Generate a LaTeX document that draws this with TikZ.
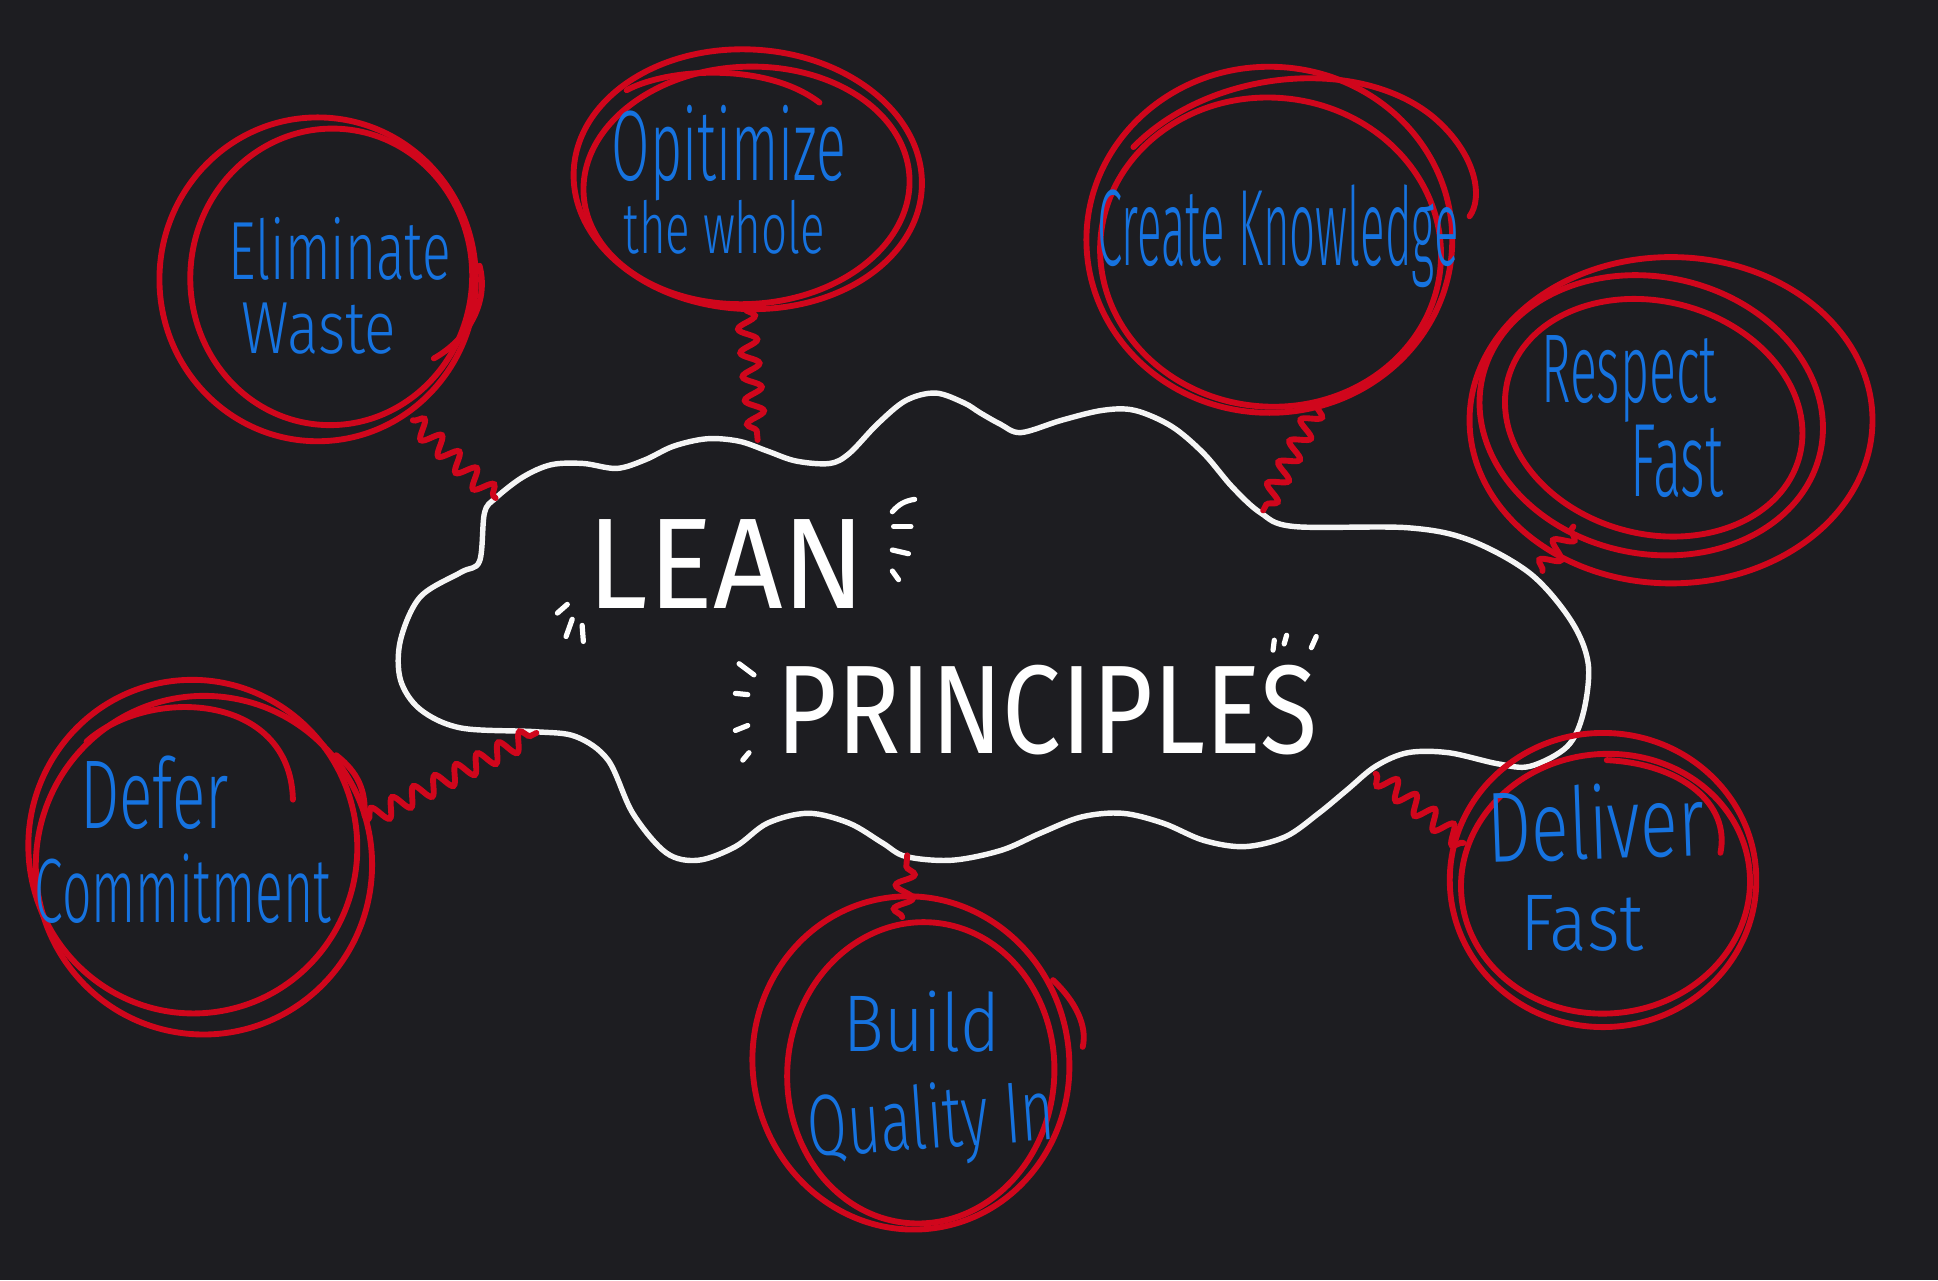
\documentclass[tikz,border=0pt]{standalone}
\usepackage{fontspec}
\usepackage{graphicx}
\usetikzlibrary{decorations.pathmorphing}
\newfontfamily\handfont{Fira Sans Light}
\newfontfamily\leanfont{Fira Sans}
\definecolor{bgc}{HTML}{1D1D21}
\definecolor{redc}{HTML}{D0061C}
\definecolor{bluec}{HTML}{1673E0}
\newcommand\hw[3]{{\fontsize{#1}{#1}\selectfont\resizebox{#2}{\height}{#3}}}
\begin{document}
\begin{tikzpicture}[x=0.01cm,y=-0.01cm,
  redline/.style={draw=redc, line width=1.35pt, line cap=round},
  cloudline/.style={draw=white!96!black, line width=1.25pt},
  wig/.style={redline, decorate, decoration={snake, amplitude=2.1pt, segment length=5.5pt}},
  hand/.style={text=bluec, font=\handfont, inner sep=0pt, anchor=base},
  titletext/.style={text=white, font=\leanfont, inner sep=0pt, anchor=base},
  ray/.style={draw=white, line width=1.2pt, line cap=round}]
\fill[bgc] (0,0) rectangle (1568,1036);
\useasboundingbox (0,0) rectangle (1568,1036);

% cloud
\draw[cloudline] plot[smooth cycle, tension=0.55] coordinates {
(401,403) (423,386) (446,376) (472,375) (499,379) (522,372) (545,361) (572,355)
(598,357) (621,365) (644,373) (671,375) (687,367) (710,343) (733,324) (757,318)
(780,326) (793,334) (809,343) (826,350) (859,340) (892,332) (918,332) (948,345)
(974,367) (997,394) (1020,415) (1047,426) (1139,427) (1189,437) (1238,464)
(1271,502) (1285,537) (1281,577) (1268,604) (1238,620) (1212,618) (1172,609)
(1139,609) (1113,620) (1090,639) (1067,658) (1040,677) (1007,685) (974,680)
(941,666) (908,658) (875,661) (842,674) (810,688) (770,696) (733,693) (714,682)
(687,666) (654,658) (621,666) (595,685) (565,696) (539,690) (512,658) (492,615)
(466,596) (433,592) (373,589) (340,574) (324,550) (324,518) (340,483) (373,463)
(388,454) (392,415)};

% title
\node[titletext] (lean) at (588,492) {\hw{29.7pt}{2.25cm}{LEAN}};
\node[titletext] (princ) at (847,610) {\hw{29pt}{4.37cm}{PRINCIPLES}};
\draw[ray] (451,496) -- (459,489);
\draw[ray] (458,515) -- (463,501);
\draw[ray] (472,519) -- (471,506);
\draw[ray] (722,414) to[bend left=20] (740,404);
\draw[ray] (723,426) -- (737,426);
\draw[ray] (722,445) -- (735,448);
\draw[ray] (722,462) -- (727,469);
\draw[ray] (598,537) -- (610,546);
\draw[ray] (595,561) -- (605,562);
\draw[ray] (595,591) -- (605,587);
\draw[ray] (601,615) -- (606,609);
\draw[ray] (1030,526) -- (1031,518);
\draw[ray] (1039,521) -- (1041,514);
\draw[ray] (1061,524) -- (1065,515);

% Eliminate Waste
\coordinate (oE) at (257,226);
\draw[redline] (oE) ellipse [x radius=128, y radius=131];
\draw[redline, rotate around={-5:(268,224)}] (268,224) ellipse [x radius=114, y radius=120];
\draw[redline] (388,215) .. controls (396,245) and (378,275) .. (351,290);
\node[hand] (tE1) at (275,226) {\hw{19pt}{1.80cm}{Eliminate}};
\node[hand] (tE2) at (258,286) {\hw{17pt}{1.25cm}{Waste}};

% Opitimize the whole
\draw[redline, rotate around={-3:(605,145)}] (605,145) ellipse [x radius=141, y radius=105];
\draw[redline, rotate around={3:(604,150)}] (604,150) ellipse [x radius=132, y radius=96];
\draw[redline] (507,73) .. controls (540,55) and (620,50) .. (663,83);
\node[hand] (tO1) at (590,146) {\hw{23pt}{1.90cm}{Opitimize}};
\node[hand] (tO2) at (586,205) {\hw{16.5pt}{1.63cm}{the whole}};

% Create Knowledge
\draw[redline] (1027,194) ellipse [x radius=148, y radius=140];
\draw[redline, rotate around={-5:(1028,204)}] (1028,204) ellipse [x radius=138, y radius=125];
\draw[redline] (917,119) .. controls (980,55) and (1100,45) .. (1160,95) .. controls (1195,125) and (1200,160) .. (1189,175);
\node[hand] (tC) at (1034,215) {\hw{25pt}{2.92cm}{Create Knowledge}};

% Respect Fast
\draw[redline] (1352,340) ellipse [x radius=163, y radius=132];
\draw[redline, rotate around={-12:(1336,336)}] (1336,336) ellipse [x radius=140, y radius=112];
\draw[redline, rotate around={-15:(1338,338)}] (1338,338) ellipse [x radius=122, y radius=94];
\node[hand] (tR1) at (1318,326) {\hw{22.5pt}{1.42cm}{Respect}};
\node[hand] (tR2) at (1357,402) {\hw{24pt}{0.75cm}{Fast}};

% Deliver Fast
\draw[redline] (1297,712) ellipse [x radius=124, y radius=119];
\draw[redline, rotate around={5:(1299,715)}] (1299,715) ellipse [x radius=117, y radius=105];
\draw[redline] (1300,615) .. controls (1360,618) and (1400,650) .. (1392,690);
\node[hand, rotate=2] (tD1) at (1292,695) {\hw{23pt}{1.75cm}{Deliver}};
\node[hand] (tD2) at (1280,769) {\hw{18.5pt}{1.00cm}{Fast}};

% Build Quality In
\draw[redline, rotate around={10:(737,860)}] (737,860) ellipse [x radius=128, y radius=135];
\draw[redline, rotate around={-5:(745,868)}] (745,868) ellipse [x radius=108, y radius=122];
\draw[redline] (852,793) .. controls (870,810) and (880,830) .. (876,847);
\node[hand] (tB1) at (746,851) {\hw{18.5pt}{1.27cm}{Build}};
\node[hand, rotate=4] (tB2) at (755,929) {\hw{20pt}{2.00cm}{Quality In}};

% Defer Commitment
\draw[redline, rotate around={10:(156,685)}] (156,685) ellipse [x radius=133, y radius=135];
\draw[redline, rotate around={-10:(165,700)}] (165,700) ellipse [x radius=136, y radius=137];
\draw[redline] (70,600) .. controls (120,555) and (235,560) .. (237,647);
\draw[redline] (272,611) .. controls (290,625) and (296,640) .. (295,660);
\node[hand] (tF1) at (125,670) {\hw{22.5pt}{1.20cm}{Defer}};
\node[hand] (tF2) at (148,746) {\hw{21pt}{2.40cm}{Commitment}};

% connectors
\coordinate (eC) at (334,340);  \coordinate (eK) at (401,403);
\coordinate (oC) at (603,250);  \coordinate (oK) at (613,356);
\coordinate (cC) at (1066,329); \coordinate (cK) at (1022,413);
\coordinate (rC) at (1248,462); \coordinate (rK) at (1273,426);
\coordinate (dC) at (1184,682); \coordinate (dK) at (1113,626);
\coordinate (bC) at (730,742);  \coordinate (bK) at (734,692);
\coordinate (fC) at (298,663);  \coordinate (fK) at (434,593);
\draw[wig] (eC) -- (eK);
\draw[wig] (oC) -- (oK);
\draw[wig] (cC) -- (cK);
\draw[wig] (rC) -- (rK);
\draw[wig] (dC) -- (dK);
\draw[wig] (bC) -- (bK);
\draw[wig] (fC) -- (fK);
\end{tikzpicture}
\end{document}
